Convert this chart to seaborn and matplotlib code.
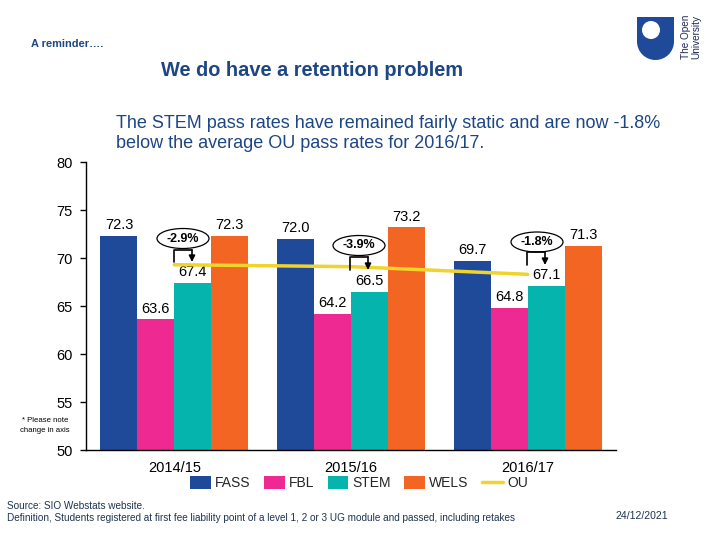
import pandas as pd
import matplotlib
matplotlib.use('Agg')
import matplotlib.pyplot as plt
import seaborn as sns
from matplotlib.patches import Circle, Ellipse, Polygon, Wedge

# Chart values
years = ['2014/15', '2015/16', '2016/17']
fass = [72.3, 72.0, 69.7]
fbl = [63.6, 64.2, 64.8]
stem = [67.4, 66.5, 67.1]
wels = [72.3, 73.2, 71.3]
ou = [69.3, 69.1, 68.3]
gaps = ['-2.9%', '-3.9%', '-1.8%']
y_ticks = [50, 55, 60, 65, 70, 75, 80]

colours = {'FASS': '#1F4A99', 'FBL': '#EE2A92', 'STEM': '#05B5AD', 'WELS': '#F26522'}
ou_colour = '#F0D32B'
navy = '#1D4685'

sns.set_theme(style='ticks')
plt.rcParams['font.family'] = ['Liberation Sans', 'DejaVu Sans']

# Long table for seaborn
rows = []
for name, vals in zip(colours, [fass, fbl, stem, wels]):
    for year, v in zip(years, vals):
        rows.append({'year': year, 'faculty': name, 'rate': v})
data = pd.DataFrame(rows)

fig = plt.figure(figsize=(7.2, 5.4), dpi=100)
ax = fig.add_axes([86 / 720, 90 / 540, 530 / 720, 288 / 540])

sns.barplot(data=data, x='year', y='rate', hue='faculty', palette=colours,
            width=0.836, saturation=1, linewidth=0, edgecolor='none', ax=ax, legend=True)
sns.lineplot(x=years, y=ou, color=ou_colour, lw=2.5, label='OU', ax=ax, zorder=5)

for bars in ax.containers:
    ax.bar_label(bars, fmt='%.1f', padding=2.5, fontsize=10.5, color='black')

ax.set_xlim(-0.5, 2.5)
ax.set_ylim(50, 80)
ax.set_yticks(y_ticks)
ax.set_xlabel('')
ax.set_ylabel('')
ax.tick_params(axis='x', length=0, pad=8, labelsize=10.5, colors='black')
ax.tick_params(axis='y', length=4.5, width=1, pad=5, labelsize=10.5, colors='black')
for side in ['left', 'bottom']:
    ax.spines[side].set_color('black')
    ax.spines[side].set_linewidth(1)
sns.despine(ax=ax)

handles, labels = ax.get_legend_handles_labels()
ax.legend(handles, labels, ncol=5, frameon=False, fontsize=10,
          loc='center', bbox_to_anchor=(359 / 720, 57 / 540),
          bbox_transform=fig.transFigure, handlelength=1.5, handleheight=1.1,
          handletextpad=0.3, columnspacing=0.95, borderpad=0, borderaxespad=0)

# Overlay in slide pixels for the text and callouts around the chart
over = fig.add_axes([0, 0, 1, 1], zorder=10)
over.set_xlim(0, 720)
over.set_ylim(540, 0)
over.axis('off')

over.text(31, 44, 'A reminder….', fontsize=7.9, fontweight='bold', va='center', color=navy)
over.text(161, 70, 'We do have a retention problem', fontsize=14.4, fontweight='bold',
          va='center', color=navy)
over.text(116, 124, 'The STEM pass rates have remained fairly static and are now -1.8%',
          fontsize=12.95, va='center', color=navy)
over.text(116, 144, 'below the average OU pass rates for 2016/17.',
          fontsize=12.95, va='center', color=navy)
over.text(45, 421, '* Please note', fontsize=5.6, va='center', ha='center', color='black')
over.text(45, 431, 'change in axis', fontsize=5.6, va='center', ha='center', color='black')
over.text(7, 506, 'Source: SIO Webstats website.', fontsize=7.2, va='center', color='#1F3350')
over.text(7, 518, 'Definition, Students registered at first fee liability point of a level 1, '
          '2 or 3 UG module and passed, including retakes',
          fontsize=7.2, va='center', color='#1F3350')
over.text(616, 516, '24/12/2021', fontsize=7.6, va='center', color='#1F3350')

# Gap callouts: ellipse centre, bracket start, bracket end, arrow tip
callouts = [((183, 238.5), 174, 192, 250, 262),
            ((359, 245.5), 350, 368, 257, 270),
            ((537, 242), 527, 545, 252, 265)]
for gap, (centre, x0, x1, top, tip) in zip(gaps, callouts):
    over.add_patch(Ellipse(centre, 52, 20, fc='white', ec='black', lw=0.9))
    over.text(centre[0], centre[1], gap, fontsize=9, fontweight='bold',
              ha='center', va='center', color='black')
    over.plot([x0, x0, x1], [tip, top, top], color='black', lw=1.2)
    over.annotate('', xy=(x1, tip), xytext=(x1, top),
                  arrowprops=dict(arrowstyle='-|>', color='black', lw=1.2,
                                  mutation_scale=9, shrinkA=0, shrinkB=0))

# Open University shield
blue = '#1F4A99'
over.add_patch(Wedge((655.5, 41.5), 18.5, 0, 180, fc=blue, ec='none'))
over.add_patch(Polygon([(637, 17), (674, 17), (674, 41.5), (637, 41.5)], fc=blue, ec='none'))
over.add_patch(Circle((651, 30), 9, fc='white', ec='none'))
over.text(691, 37, 'The Open\nUniversity', rotation=90, fontsize=7.2, ha='center', va='center',
          linespacing=1.05, color='#1F2A55')

fig.savefig('out.png', dpi=100)
